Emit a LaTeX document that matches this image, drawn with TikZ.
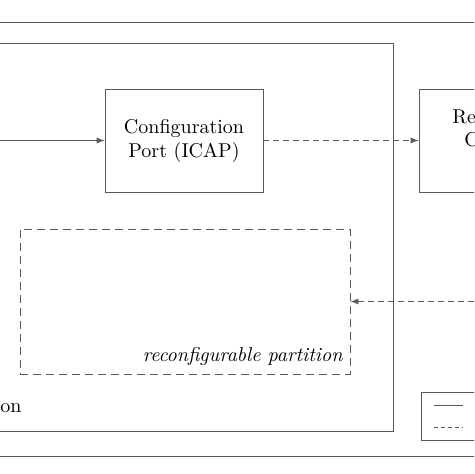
\documentclass[tikz,border=0pt]{standalone}
\usepackage{amsmath}
\usepackage{amssymb}
\usetikzlibrary{positioning}

\begin{document}
\begin{tikzpicture}[x=0.5pt,y=-0.5pt,>=latex,color=black!65,every node/.style={text=black},
  block node/.style={rectangle,draw,minimum width=79pt,minimum height=51.5pt,align=center,inner sep=0pt},
  part node/.style={rectangle,draw,dash pattern=on 4pt off 2.5pt,minimum width=165pt,minimum height=72.5pt},
  frag node/.style={inner sep=0pt,anchor=base west},
  link/.style={dash pattern=on 3pt off 2pt}]
  \useasboundingbox (0,0) rectangle (474,474);
  \clip (0,0) rectangle (474,474);

  % frames
  \draw (-20,22) -- (494,22);
  \draw (-20,456) -- (494,456);
  \draw (-20,43) -- (393,43) -- (393,431) -- (-20,431);
  \node[frag node] (region) at (0,412) {on};

  \node[block node] (icap) at (184,140.5) {Configuration\\Port (ICAP)};
  \node[block node] (ctrl) at (498,140.5) {};
  \node[frag node] (ctrl1) at (452,124) {Re};
  \node[frag node] (ctrl2) at (464,147) {C};

  \node[part node] (rp) at (185,301.5) {};
  \node[inner sep=0pt,anchor=base east] (rplabel) at ([xshift=-3.5pt,yshift=6.5pt]rp.south east) {\textit{reconfigurable partition}};

  \coordinate (src) at (-20,140.5);
  \coordinate (fb) at (494,301.5);
  \draw[->] (src) -- (icap);
  \draw[->, link] (icap) -- (ctrl);
  \draw[->, link] (fb) -- (rp);

  % legend
  \node[draw,minimum width=60pt,minimum height=24pt] (legend) at (481,416) {};
  \draw (434,405) -- (463,405);
  \draw[dash pattern=on 2pt off 1.5pt] (434,427) -- (463,427);
\end{tikzpicture}
\end{document}
